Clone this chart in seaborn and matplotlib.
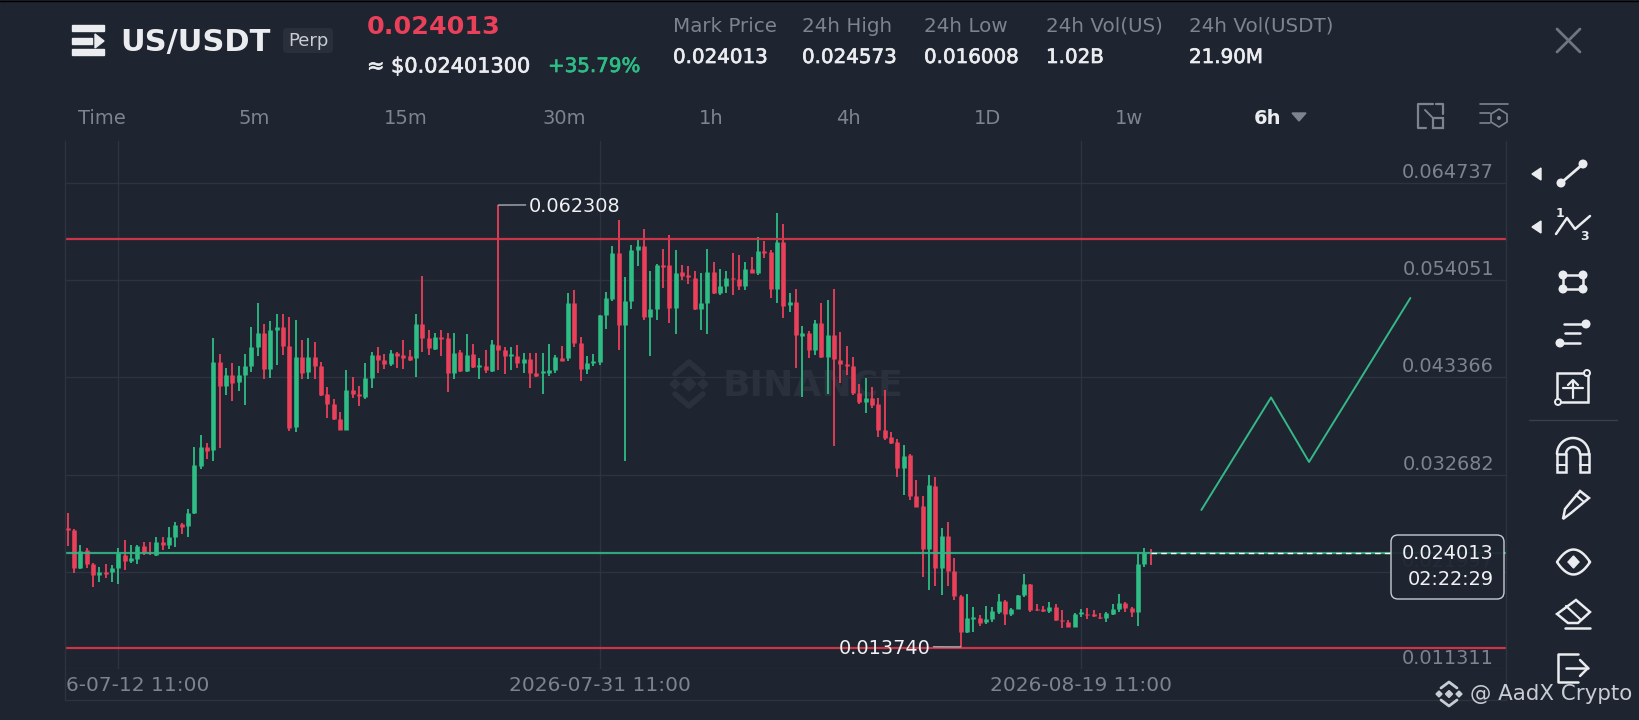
import numpy as np
import pandas as pd
import seaborn as sns
import matplotlib.pyplot as plt
import matplotlib.patheffects as pe
from matplotlib.patches import Rectangle, FancyBboxPatch, Circle, Polygon
from matplotlib.transforms import ScaledTranslation

# --- candle values, in thousandths of USDT ---
opens = [
    26.81, 26.60, 22.45, 24.40, 22.82, 21.61, 21.98, 21.94, 22.38, 23.89, 23.19, 23.41, 24.87, 24.18, 23.81, 25.28,
    24.91, 25.86, 27.22, 27.04, 28.43, 33.63, 35.76, 35.39, 45.03, 42.46, 43.67, 42.83, 43.67, 44.62, 46.71, 48.29,
    44.33, 48.58, 48.91, 46.86, 37.88, 45.61, 43.93, 45.61, 44.62, 41.51, 40.45, 38.76, 37.63, 41.99, 41.55, 41.18,
    43.30, 45.87, 45.28, 44.84, 46.05, 45.80, 45.72, 45.50, 49.24, 47.66, 46.53, 47.81, 47.67, 43.89, 46.13, 44.07,
    45.91, 44.55, 44.66, 44.11, 46.97, 46.38, 45.76, 45.72, 44.95, 45.36, 43.82, 43.82, 43.82, 44.15, 45.54, 45.50,
    51.51, 47.19, 44.26, 44.92, 45.06, 50.27, 51.99, 57.01, 49.09, 51.77, 57.41, 57.81, 50.01, 50.85, 55.69, 55.73,
    51.00, 54.92, 54.59, 54.33, 50.89, 51.59, 54.96, 52.65, 53.45, 54.30, 54.15, 53.38, 55.29, 54.81, 57.23, 57.19,
    53.12, 58.29, 51.29, 51.66, 47.95, 48.21, 46.38, 49.35, 45.61, 48.06, 45.28, 44.88, 44.62, 41.69, 40.70, 41.14,
    40.48, 37.55, 36.82, 36.23, 33.37, 34.80, 30.37, 29.23, 24.50, 31.43, 22.45, 25.93, 22.05, 19.34, 15.34, 16.81,
    16.92, 16.48, 16.85, 17.62, 18.79, 17.36, 17.91, 19.45, 20.62, 17.95, 17.87, 17.72, 18.13, 16.74, 16.52, 15.97,
    17.36, 17.40, 17.32, 17.07, 16.88, 17.40, 17.87, 18.57, 18.06, 17.62, 22.86, 24.05,
]
highs = [
    28.43, 26.74, 24.98, 24.62, 22.93, 22.49, 22.86, 22.79, 24.58, 25.46, 24.91, 24.91, 25.24, 25.24, 25.79, 25.86,
    26.96, 27.44, 27.33, 28.87, 35.76, 37.00, 36.12, 47.66, 45.98, 44.37, 44.92, 44.62, 45.98, 48.95, 51.51, 49.20,
    49.61, 50.30, 50.30, 49.97, 49.64, 47.48, 47.70, 47.30, 45.06, 42.28, 40.96, 39.53, 44.18, 43.45, 42.39, 44.92,
    46.16, 46.68, 45.94, 46.38, 46.20, 47.48, 46.38, 50.38, 54.52, 48.58, 48.25, 48.58, 48.21, 48.21, 46.38, 48.10,
    47.08, 45.54, 46.38, 47.45, 62.308, 46.68, 46.68, 46.93, 46.02, 46.02, 46.02, 46.02, 47.01, 45.80, 46.82, 52.61,
    52.98, 47.78, 45.76, 45.98, 50.27, 52.72, 57.81, 60.67, 54.37, 57.89, 58.47, 59.68, 55.03, 55.84, 57.52, 59.06,
    57.34, 55.73, 55.58, 55.03, 54.81, 57.45, 56.02, 55.25, 55.07, 57.01, 56.79, 56.02, 56.64, 58.77, 58.36, 57.34,
    61.41, 60.23, 52.68, 53.05, 49.00, 48.47, 49.68, 51.51, 51.88, 53.09, 48.32, 46.78, 45.65, 42.64, 43.34, 42.35,
    41.07, 41.98, 37.40, 36.60, 35.97, 34.95, 32.09, 30.37, 32.68, 32.45, 26.78, 27.51, 23.48, 19.45, 19.52, 18.17,
    17.21, 18.24, 18.17, 19.56, 18.90, 18.06, 19.48, 21.72, 20.66, 18.49, 18.24, 18.71, 18.42, 17.80, 16.70, 17.43,
    17.95, 17.98, 17.80, 17.51, 17.54, 18.46, 19.56, 18.71, 18.17, 23.95, 24.57, 24.50,
]
lows = [
    24.84, 21.90, 22.35, 22.45, 20.37, 20.84, 21.36, 20.92, 20.62, 22.20, 22.93, 22.86, 23.85, 23.81, 23.74, 24.40,
    24.47, 24.76, 26.16, 25.79, 28.36, 33.34, 34.44, 34.22, 35.57, 41.47, 40.81, 41.84, 40.34, 43.96, 45.76, 43.19,
    43.34, 44.73, 45.80, 37.52, 37.41, 43.19, 43.23, 43.23, 41.33, 38.87, 38.69, 37.63, 37.63, 41.11, 40.26, 41.00,
    42.24, 43.82, 44.29, 44.59, 44.37, 44.29, 45.21, 43.41, 46.20, 45.87, 46.38, 45.76, 41.73, 43.16, 44.00, 44.00,
    44.44, 43.23, 43.89, 44.00, 44.18, 43.78, 44.15, 44.44, 43.89, 42.24, 43.45, 41.51, 43.52, 43.89, 45.14, 45.21,
    46.68, 42.94, 43.74, 44.66, 44.73, 48.73, 51.77, 46.38, 34.22, 50.85, 55.62, 49.72, 45.76, 49.72, 53.16, 49.39,
    48.10, 54.08, 53.64, 50.78, 48.58, 48.18, 52.50, 52.47, 52.65, 52.39, 53.01, 52.98, 54.81, 54.63, 56.53, 52.14,
    51.51, 49.90, 50.60, 44.44, 41.25, 45.54, 45.87, 45.50, 41.51, 35.86, 42.75, 43.59, 41.43, 40.44, 39.49, 39.97,
    36.85, 36.49, 36.05, 32.38, 30.44, 29.89, 29.09, 21.46, 20.04, 20.44, 19.48, 20.44, 18.90, 13.74, 15.31, 15.34,
    16.08, 16.26, 16.44, 17.32, 16.19, 17.18, 17.87, 19.26, 17.62, 17.69, 17.54, 17.51, 16.59, 15.82, 15.89, 15.89,
    17.00, 16.81, 17.00, 16.81, 16.52, 17.25, 17.58, 17.54, 17.07, 16.00, 22.56, 22.74,
]
closes = [
    26.60, 22.45, 24.32, 22.86, 21.61, 21.98, 21.76, 22.38, 24.10, 23.23, 23.48, 24.84, 24.14, 24.03, 25.24, 24.91,
    25.83, 27.15, 26.96, 28.50, 33.70, 35.76, 35.32, 45.06, 42.46, 43.67, 42.79, 43.67, 44.62, 46.68, 48.29, 44.29,
    48.58, 48.87, 46.86, 37.81, 45.61, 43.89, 45.61, 44.62, 41.47, 40.45, 38.76, 37.63, 41.99, 41.51, 41.36, 43.30,
    45.87, 45.28, 44.84, 46.02, 45.76, 45.54, 45.32, 49.24, 47.66, 46.57, 47.81, 47.63, 43.89, 46.05, 44.07, 45.87,
    44.51, 44.73, 44.18, 47.01, 46.38, 45.72, 45.94, 44.92, 45.36, 43.82, 43.52, 44.04, 44.18, 45.65, 45.21, 51.51,
    47.19, 44.26, 44.99, 45.21, 50.23, 52.06, 57.01, 49.09, 51.77, 57.41, 57.81, 49.97, 50.85, 55.76, 55.47, 51.00,
    54.88, 54.48, 54.37, 50.85, 51.59, 54.96, 52.61, 53.45, 54.33, 54.15, 53.42, 55.29, 54.81, 57.23, 57.01, 53.12,
    58.29, 51.26, 51.62, 47.99, 48.21, 46.38, 49.38, 45.57, 48.06, 45.35, 44.88, 44.62, 41.69, 40.66, 41.14, 40.30,
    37.55, 36.74, 36.19, 33.37, 34.76, 30.37, 29.16, 24.50, 31.50, 22.45, 25.93, 22.08, 19.34, 15.42, 16.88, 17.07,
    16.41, 16.81, 17.65, 18.75, 17.36, 17.95, 19.45, 20.62, 17.80, 17.76, 17.72, 18.13, 16.70, 16.55, 15.97, 17.36,
    17.58, 17.25, 17.14, 16.88, 17.43, 17.87, 18.53, 18.06, 17.58, 22.86, 24.03, 24.013,
]

price_ticks = [0.064737, 0.054051, 0.043366, 0.032682, 0.021997, 0.011311]
date_ticks = [8, 84, 160]
date_labels = ["6-07-12 11:00", "2026-07-31 11:00", "2026-08-19 11:00"]

last_price = 0.024013
resistance = 0.05854
support = 0.01362
zigzag_x = [179, 190, 196, 212]
zigzag_y = [0.02879, 0.04116, 0.03407, 0.05209]

stat_names = ["Mark Price", "24h High", "24h Low", "24h Vol(US)", "24h Vol(USDT)"]
stat_values = ["0.024013", "0.024573", "0.016008", "1.02B", "21.90M"]
stat_left = [673, 802, 924, 1046, 1189]
tab_names = ["Time", "5m", "15m", "30m", "1h", "4h", "1D", "1w"]
tab_center = [102, 254, 406, 564, 711, 848, 988, 1129]

BG = "#1e2430"
GRID = "#2e343f"
GREEN = "#2ebd85"
RED = "#ea4059"
GREY = "#7d838f"
WHITE = "#eaecef"

sns.set_theme(style="dark", rc={"axes.facecolor": "none", "figure.facecolor": BG, "axes.edgecolor": GRID})
plt.rcParams["font.family"] = ["DejaVu Sans"]

fig = plt.figure(figsize=(16.4, 7.2), dpi=100)
top, bottom, left, right = 141, 669, 65, 1506
ax = fig.add_axes([left / 1640, 1 - bottom / 720, (right - left) / 1640, (bottom - top) / 720])

# pixel overlay for the app chrome around the chart
ui = fig.add_axes([0, 0, 1, 1], zorder=5)
ui.set_xlim(0, 1640)
ui.set_ylim(720, 0)
ui.axis("off")
ui.patch.set_alpha(0)

# --- candles ---
df = pd.DataFrame({"i": range(len(opens)), "open": opens, "high": highs, "low": lows, "close": closes})
df[["open", "high", "low", "close"]] /= 1000
df["dir"] = np.where(df["close"] >= df["open"], "up", "down")
palette = {"up": GREEN, "down": RED}

wicks = df.melt(id_vars=["i", "dir"], value_vars=["high", "low"], value_name="price")
bodies = df.melt(id_vars=["i", "dir"], value_vars=["open", "close"], value_name="price")
sns.lineplot(data=wicks, x="i", y="price", hue="dir", units="i", estimator=None, palette=palette,
             linewidth=1.3, legend=False, ax=ax, solid_capstyle="butt", zorder=2)
sns.lineplot(data=bodies, x="i", y="price", hue="dir", units="i", estimator=None, palette=palette,
             linewidth=3.3, legend=False, ax=ax, solid_capstyle="butt", zorder=2)

ax.axhline(resistance, color="#d5364a", lw=1.6, zorder=3, alpha=0.95)
ax.axhline(support, color="#d5364a", lw=1.6, zorder=3, alpha=0.95)
ax.axhline(last_price, color="#34b485", lw=1.6, zorder=3, alpha=0.9)
ax.plot([171, 209], [last_price, last_price], color="white", lw=1, dashes=(4, 3), zorder=4)
sns.lineplot(x=zigzag_x, y=zigzag_y, sort=False, estimator=None, color="#35b888", linewidth=1.4, ax=ax)

ax.set_xlim(-0.43, 227.1)
ax.set_ylim(0.011311, 0.06935)
ax.set_xlabel("")
ax.set_ylabel("")

# --- axes, grid, tick labels ---
ax.set_yticks(price_ticks)
ax.set_yticklabels([f"{p:.6f}" for p in price_ticks])
ax.set_xticks(date_ticks)
ax.set_xticklabels(date_labels)
ax.yaxis.tick_right()
ax.grid(True, color=GRID, lw=1)
ax.set_axisbelow(True)
ax.tick_params(axis="y", length=0, pad=-8.6, labelsize=13.9, labelcolor=GREY)
ax.tick_params(axis="x", length=0, pad=5, labelsize=14.5, labelcolor=GREY)
for lab in ax.get_yticklabels():
    lab.set_ha("right")
    lab.set_va("bottom")
    lab.set_transform(lab.get_transform() + ScaledTranslation(0, 1 / 100, fig.dpi_scale_trans))
first = ax.get_xticklabels()[0]
first.set_transform(first.get_transform() + ScaledTranslation(19 / 100, 0, fig.dpi_scale_trans))
for s in ax.spines.values():
    s.set_visible(False)

# --- high / low leaders ---
i_hi, i_lo = int(np.argmax(highs)), int(np.argmin(lows))
ax.annotate(f"{highs[i_hi] / 1000:.6f}", xy=(i_hi, highs[i_hi] / 1000), xytext=(22, -1), textcoords="offset points",
            color="#f0f1f3", fontsize=13.9, va="center", ha="left", zorder=6,
            arrowprops=dict(arrowstyle="-", color="#a9adb5", lw=1, shrinkA=0, shrinkB=0, relpos=(0, 0.58)))
ax.annotate(f"{lows[i_lo] / 1000:.6f}", xy=(i_lo, lows[i_lo] / 1000), xytext=(-22, -1), textcoords="offset points",
            color="#f0f1f3", fontsize=13.9, va="center", ha="right", zorder=6,
            arrowprops=dict(arrowstyle="-", color="#a9adb5", lw=1, shrinkA=0, shrinkB=0, relpos=(1, 0.58)))

# --- BINANCE watermark under the candles ---
WM = "#2a303c"
ax.text(723, 385, "BINANCE", transform=ui.transData, color=WM, fontsize=26, fontweight="bold", va="center", zorder=1)
for cx, cy, r in [(689, 384, 7), (675, 384, 5), (703, 384, 5)]:
    ax.add_patch(Polygon([(cx - r, cy), (cx, cy - r), (cx + r, cy), (cx, cy + r)], transform=ui.transData,
                         color=WM, zorder=1))
for sy in (-1, 1):
    ax.plot([675, 689, 703], [384 + sy * 10, 384 + sy * 22, 384 + sy * 10], transform=ui.transData,
            color=WM, lw=4, zorder=1)


def label(x, y, s, color=WHITE, size=14.3, ha="left", weight="normal", zorder=6, heavy=False):
    t = ui.text(x, y + 1.5, s, color=color, fontsize=size, ha=ha, va="center", fontweight=weight, zorder=zorder)
    if heavy:
        # the app font is a medium weight, DejaVu has none
        t.set_path_effects([pe.withStroke(linewidth=0.5, foreground=color)])


def stroke(xs, ys, color=WHITE, lw=1.8, **kw):
    ui.plot(xs, ys, color=color, lw=lw, solid_capstyle="round", solid_joinstyle="round", **kw)


def dot(x, y, r=4.5, fill=WHITE, edge=WHITE, lw=0):
    ui.add_patch(Circle((x, y), r, facecolor=fill, edgecolor=edge, lw=lw, zorder=7))


# --- header ---
for y in (28, 41, 52):
    w = 32 if y != 41 else 20
    ui.add_patch(Rectangle((72, y - 3), w, 6, color=WHITE))
ui.add_patch(Polygon([(95, 34), (104, 41), (95, 48)], color=WHITE))
label(120, 41, "US/USDT", size=22, weight="bold")
ui.add_patch(FancyBboxPatch((283, 28), 50, 25, boxstyle="round,pad=0,rounding_size=4", fc="#2a303b", ec="none"))
label(308, 40, "Perp", color="#c9ccd2", size=13, ha="center")
label(367, 25, "0.024013", color=RED, size=18.3, weight="bold")
label(367, 65, "≈ $0.02401300", size=15, heavy=True)
label(548, 65, "+35.79%", color=GREEN, size=14.3, heavy=True)
for x, name, val in zip(stat_left, stat_names, stat_values):
    label(x, 25, name, color=GREY)
    label(x, 56, val, heavy=True)

# --- interval tabs ---
for x, name in zip(tab_center, tab_names):
    label(x, 117, name, color=GREY, size=14, ha="center")
label(1268, 117, "6h", size=14, ha="center", weight="bold")
ui.add_patch(Polygon([(1292, 113), (1306, 113), (1299, 121)], color=GREY))

# --- frame pieces below the chart ---
ui.plot([left, left], [top, 700], color=GRID, lw=1)
ui.plot([right, right], [top, 700], color=GRID, lw=1)
ui.plot([left, right], [700, 700], color=GRID, lw=1)
ui.plot([0, 1640], [0.5, 0.5], color="black", lw=1)

# --- price box ---
ui.add_patch(FancyBboxPatch((1391, 535), 113, 64, boxstyle="round,pad=0,rounding_size=7", fc=BG, ec="#d5d8de",
                            lw=1, alpha=0.93, zorder=5))
label(1494, 552, "0.024013", color="#f0f1f3", size=13.9, ha="right")
label(1494, 578, "02:22:29", color="#f0f1f3", size=13.9, ha="right")

# --- close cross and top icons ---
stroke([1557, 1580], [29, 52], color="#6f7682", lw=2)
stroke([1557, 1580], [52, 29], color="#6f7682", lw=2)
stroke([1433, 1418, 1418, 1426], [104, 104, 128, 128], color=GREY, lw=1.6)
stroke([1436, 1443, 1443], [104, 104, 114], color=GREY, lw=1.6)
ui.add_patch(Rectangle((1433, 118), 10, 10, fc="none", ec=GREY, lw=1.6))
stroke([1425, 1432], [110, 117], color=GREY, lw=1.4)
stroke([1480, 1508], [104, 104], color=GREY, lw=1.2)
stroke([1480, 1490], [113, 113], color=GREY, lw=1.2)
stroke([1480, 1490], [123, 123], color=GREY, lw=1.2)
ui.add_patch(Polygon([(1499, 109), (1507, 114), (1507, 122), (1499, 127), (1491, 122), (1491, 114)],
                     fc="none", ec=GREY, lw=1.2))
dot(1499, 118, 2, GREY, GREY)

# --- drawing toolbar ---
for y in (174, 227):
    ui.add_patch(Polygon([(1541, y - 6), (1541, y + 6), (1532, y)], color=WHITE))
stroke([1561, 1583], [183, 164], lw=2)
dot(1561, 183)
dot(1583, 164)
stroke([1556, 1567, 1575, 1590], [234, 218, 229, 216], lw=1.8)
label(1560, 212, "1", size=9, ha="center", weight="bold", zorder=7)
label(1585, 235, "3", size=9, ha="center", weight="bold", zorder=7)
stroke([1563, 1583, 1583, 1563, 1563], [275, 275, 289, 289, 275], lw=1.8)
for x, y in [(1563, 275), (1583, 275), (1563, 289), (1583, 289)]:
    dot(x, y)
stroke([1564, 1582], [324, 324], lw=1.8)
stroke([1565, 1580], [333, 333], lw=1.8)
stroke([1562, 1580], [343, 343], lw=1.8)
dot(1586, 324)
dot(1560, 343)
ui.add_patch(Rectangle((1557, 373), 31, 29, fc="none", ec=WHITE, lw=1.8))
dot(1587, 373, 3, BG, WHITE, 1.4)
dot(1558, 402, 3, BG, WHITE, 1.4)
stroke([1563, 1583], [388, 388], lw=1.6)
stroke([1573, 1573], [381, 398], lw=1.6)
stroke([1568, 1573, 1578], [385, 380, 385], lw=1.6)
ui.plot([1529, 1617], [420, 420], color="#3a404c", lw=1)

t = np.linspace(np.pi, 2 * np.pi, 30)
stroke(1573 + 16 * np.cos(t), 454 + 16 * np.sin(t), lw=1.8)
stroke(1573 + 7 * np.cos(t), 454 + 7 * np.sin(t), lw=1.8)
for x in (1557, 1580):
    ui.add_patch(Rectangle((x, 454), 9, 18, fc="none", ec=WHITE, lw=1.8))
    stroke([x, x + 9], [465, 465], lw=1.4)

ui.add_patch(Polygon([(1580, 491), (1589, 498), (1571, 513), (1563, 519), (1565, 509)], fc="none", ec=WHITE, lw=1.8))
stroke([1576, 1584], [495, 502], lw=1.4)

a = np.linspace(0, 2 * np.pi, 50)
ui.plot(1573.5 + 16.5 * np.cos(a), 562 + 12.5 * np.sin(a) * np.abs(np.sin(a)), color=WHITE, lw=1.8)
ui.add_patch(Polygon([(1573.5, 556), (1579, 562), (1573.5, 568), (1568, 562)], color=WHITE))

ui.add_patch(Polygon([(1576, 600), (1590, 612), (1578, 623), (1568, 623), (1557, 614)], fc="none", ec=WHITE, lw=1.8))
stroke([1566, 1580], [606, 619], lw=1.6)
stroke([1565, 1590], [628, 628], lw=1.8)

stroke([1578, 1558, 1558, 1578], [654, 654, 682, 682], lw=1.8)
stroke([1566, 1588], [668, 668], lw=1.8)
stroke([1580, 1588, 1580], [660, 668, 676], lw=1.8)

# --- author watermark ---
label(1470, 692.5, "@ AadX Crypto", color="#c8ccd3", size=15.4, zorder=8)
for cx, cy, r in [(1449, 694, 3.5), (1439, 694, 3), (1459, 694, 3)]:
    ui.add_patch(Polygon([(cx - r, cy), (cx, cy - r), (cx + r, cy), (cx, cy + r)], color="#c8ccd3", zorder=8))
for sy in (-1, 1):
    stroke([1441, 1449, 1457], [694 + sy * 6, 694 + sy * 12, 694 + sy * 6], color="#c8ccd3", lw=2, zorder=8)

fig.savefig("out.png", dpi=100, facecolor=BG)
